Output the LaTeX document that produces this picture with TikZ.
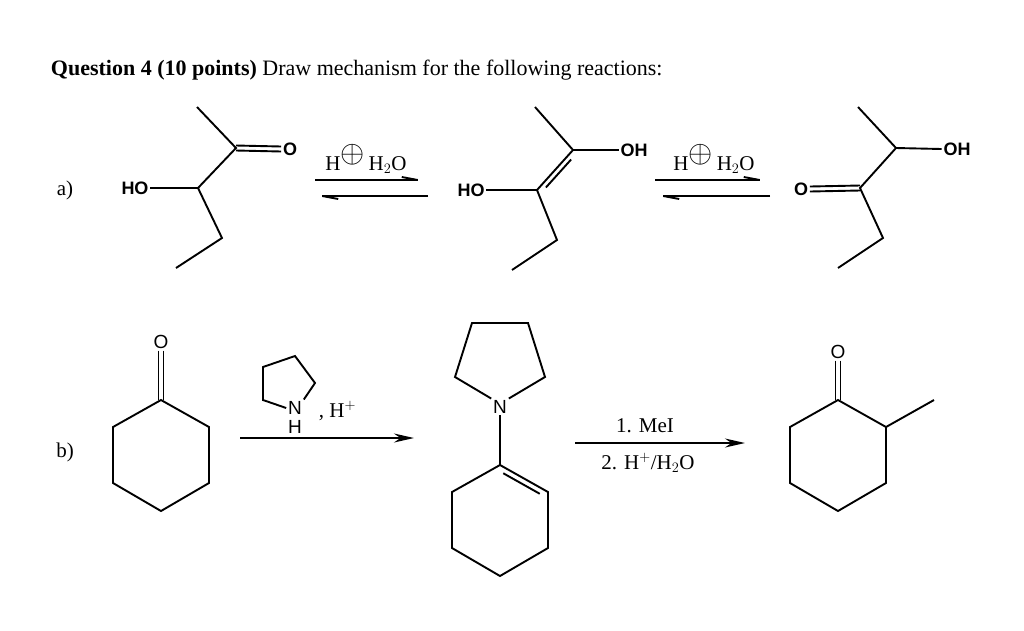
\documentclass[tikz,border=0pt]{standalone}
\usepackage{fontspec}
\usepackage{graphicx}
\setmainfont{Liberation Serif}
\newfontfamily\atomf{Liberation Sans}
\usetikzlibrary{arrows.meta,calc}
\newcommand{\hplus}{H\raisebox{8pt}{\scalebox{1.5}{$\oplus$}}\kern4pt H$_2$O}
\begin{document}
\begin{tikzpicture}[x=1pt,y=-1pt,line width=1.9pt,
  atm/.style={font=\atomf\bfseries\fontsize{18}{18}\selectfont,inner sep=1pt},
  atn/.style={font=\atomf\fontsize{19}{19}\selectfont,inner sep=1pt},
  txt/.style={font=\fontsize{21}{23}\selectfont,inner sep=0pt},
  fwd/.style={-{Straight Barb[left,length=16pt,width=6pt]}},
  full/.style={-{Stealth[length=20pt,width=9pt]}}]
\useasboundingbox (0,0) rectangle (1024,630);
\node[anchor=west,txt,font=\fontsize{22}{24}\selectfont] (title) at (50,70) {\textbf{Question 4 (10 points)} Draw mechanism for the following reactions:};
\node[txt] (la) at (65,190) {a)};
\node[txt] (lb) at (65,452) {b)};
% molecule 1
\coordinate (m1a) at (197,107); \coordinate (m1b) at (236,148);
\coordinate (m1c) at (198,188); \coordinate (m1d) at (222,238); \coordinate (m1e) at (176,268);
\node[atm] (o1) at (290,149) {O};
\node[atm] (ho1) at (135,188) {HO};
\draw (m1a)--(m1b)--(m1c)--(m1d)--(m1e);
\draw ([yshift=-2.5pt]m1b)--([yshift=-2.5pt]o1.west);
\draw ([yshift=2.5pt]m1b)--([yshift=2.5pt]o1.west);
\draw (ho1.east)--(m1c);
% arrows 1
\coordinate (a1s) at (315,180); \coordinate (a1e) at (428,180);
\coordinate (a1t) at (428,196); \coordinate (a1u) at (312,196);
\draw[fwd] (a1s)--(a1e); \draw[fwd] (a1t)--(a1u);
\node[txt] (r1) at (366,159) {\hplus};
% molecule 2
\coordinate (m2a) at (535,107); \coordinate (m2b) at (573,150);
\coordinate (m2c) at (537,190); \coordinate (m2d) at (557,240); \coordinate (m2e) at (512,270);
\node[atm] (oh2) at (634,150) {OH};
\node[atm] (ho2) at (471,190) {HO};
\draw (m2a)--(m2b)--(m2c)--(m2d)--(m2e);
\draw ($(m2b)!0.15!(m2c)+(3.5,3.5)$) -- ($(m2b)!0.85!(m2c)+(3.5,3.5)$);
\draw (m2b)--(oh2.west); \draw (ho2.east)--(m2c);
% arrows 2
\coordinate (a2s) at (655,180); \coordinate (a2e) at (770,180);
\coordinate (a2t) at (770,196); \coordinate (a2u) at (653,196);
\draw[fwd] (a2s)--(a2e); \draw[fwd] (a2t)--(a2u);
\node[txt] (r2) at (714,159) {\hplus};
% molecule 3
\coordinate (m3a) at (858,107); \coordinate (m3b) at (896,148);
\coordinate (m3c) at (860,188); \coordinate (m3d) at (883,238); \coordinate (m3e) at (838,268);
\node[atm] (oh3) at (957,149) {OH};
\node[atm] (o3) at (801,189) {O};
\draw (m3a)--(m3b)--(m3c)--(m3d)--(m3e);
\draw (m3b)--(oh3.west);
\draw ([yshift=-2.5pt]o3.east)--([yshift=-2.5pt]m3c);
\draw ([yshift=2.5pt]o3.east)--([yshift=2.5pt]m3c);
% b) cyclohexanone
\node[atn] (ob) at (161,342) {O};
\coordinate (k1) at (161,400); \coordinate (k2) at (113,427); \coordinate (k3) at (113,483);
\coordinate (k4) at (161,511); \coordinate (k5) at (209,483); \coordinate (k6) at (209,427);
\draw (k1)--(k2)--(k3)--(k4)--(k5)--(k6)--cycle;
\draw ([xshift=-2.5pt]ob.south)--([xshift=-2.5pt]k1);
\draw ([xshift=2.5pt]ob.south)--([xshift=2.5pt]k1);
% reagent pyrrolidine
\node[atn] (nr) at (295,408) {N};
\node[atn] (hr) at (295,427) {H};
\coordinate (p1) at (263,400); \coordinate (p2) at (263,367); \coordinate (p3) at (295,356); \coordinate (p4) at (315,383);
\draw (nr.west)--(p1)--(p2)--(p3)--(p4)--(nr.north east);
\node[txt,anchor=west] (hp) at (318,411) {, H$^+$};
\coordinate (b1s) at (240,438); \coordinate (b1e) at (414,438);
\draw[full] (b1s)--(b1e);
% enamine
\node[atn] (ne) at (500,407) {N};
\coordinate (q1) at (455,377); \coordinate (q2) at (472,323); \coordinate (q3) at (528,323); \coordinate (q4) at (545,377);
\draw (ne.north west)--(q1)--(q2)--(q3)--(q4)--(ne.north east);
\coordinate (e1) at (500,465); \coordinate (e2) at (548,492); \coordinate (e3) at (548,548);
\coordinate (e4) at (500,576); \coordinate (e5) at (452,548); \coordinate (e6) at (452,492);
\draw (ne.south)--(e1);
\draw (e1)--(e2)--(e3)--(e4)--(e5)--(e6)--cycle;
\draw ($(e1)!0.12!(e2)+(-2.5,5)$)--($(e1)!0.88!(e2)+(-2.5,5)$);
% arrow 2
\coordinate (b2s) at (575,443); \coordinate (b2e) at (745,443);
\draw[full] (b2s)--(b2e);
\node[txt] (t1) at (645,426) {1. MeI};
\node[txt] (t2) at (648,463) {2. H$^+$/H$_2$O};
% product
\node[atn] (op) at (838,352) {O};
\coordinate (c1) at (838,400); \coordinate (c2) at (790,427); \coordinate (c3) at (790,483);
\coordinate (c4) at (838,511); \coordinate (c5) at (886,483); \coordinate (c6) at (886,427);
\coordinate (c7) at (934,400);
\draw (c1)--(c2)--(c3)--(c4)--(c5)--(c6)--cycle;
\draw (c6)--(c7);
\draw ([xshift=-2.5pt]op.south)--([xshift=-2.5pt]c1);
\draw ([xshift=2.5pt]op.south)--([xshift=2.5pt]c1);
\end{tikzpicture}
\end{document}
